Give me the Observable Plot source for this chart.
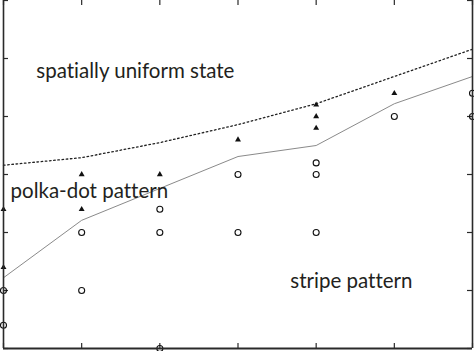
<!DOCTYPE html>
<html>
<head>
<meta charset="utf-8">
<script src="https://cdn.jsdelivr.net/npm/d3@7"></script>
<script src="https://cdn.jsdelivr.net/npm/@observablehq/plot@0.6"></script>
<style>
  html, body { margin: 0; padding: 0; background: #fff; }
  svg { display: block; }
  svg text { font-variant-ligatures: none; font-feature-settings: "liga" 0, "dlig" 0; }
</style>
</head>
<body>
<div id="chart"></div>
<script>
// Parameter grid (arbitrary units, 0..6 on both axes; no tick labels in the original)
const xTicks = [0, 1, 2, 3, 4, 5, 6];
const yTicks = [0, 1, 2, 3, 4, 5, 6];

// polka-dot observations (filled triangles)
const triX = [0, 0, 1, 1, 2, 3, 4, 4, 4, 5];
const triY = [2.4, 1.4, 3.0, 2.4, 3.0, 3.6, 4.2, 4.0, 3.8, 4.4];

// stripe observations (open circles)
const circX = [0, 0, 1, 1, 2, 2, 2, 3, 3, 4, 4, 4, 5, 6, 6];
const circY = [1.0, 0.4, 2.0, 1.0, 2.4, 2.0, 0.0, 3.0, 2.0, 3.2, 3.0, 2.0, 4.0, 4.4, 4.0];

// upper boundary (dotted): uniform state vs polka-dot
const upperX = [0, 1, 2, 3, 4, 5, 6];
const upperY = [3.16, 3.29, 3.55, 3.86, 4.22, 4.69, 5.16];

// lower boundary (solid grey): polka-dot vs stripe
const lowerX = [0, 1, 3, 4, 5, 6];
const lowerY = [1.22, 2.21, 3.31, 3.50, 4.22, 4.69];

// region labels
const labelText = ["spatially uniform state", "polka-dot pattern", "stripe pattern"];
const labelX = [0.42, 0.09, 3.67];
const labelY = [4.66, 2.60, 1.05];

const tri = triX.map((x, i) => ({x, y: triY[i]}));
const circ = circX.map((x, i) => ({x, y: circY[i]}));
const upper = upperX.map((x, i) => ({x, y: upperY[i]}));
const lower = lowerX.map((x, i) => ({x, y: lowerY[i]}));
const labels = labelText.map((t, i) => ({t, x: labelX[i], y: labelY[i]}));

const W = 474, H = 351;
const mL = 3, mR = 2, mT = 0, mB = 3;
const pw = W - mL - mR, ph = H - mT - mB;
const tl = 5;
const ink = "#2a2a2a";

const chart = Plot.plot({
  width: W,
  height: H,
  marginLeft: mL,
  marginRight: mR,
  marginTop: mT,
  marginBottom: mB,
  x: {domain: [0, 6], axis: null},
  y: {domain: [0, 6], axis: null},
  style: {background: "#fff", fontFamily: "Lato, 'Open Sans', sans-serif"},
  marks: [
    // inward ticks on all four sides
    Plot.tickX(xTicks, {x: d => d, insetTop: ph - tl, stroke: ink, strokeWidth: 1.2}),
    Plot.tickX(xTicks, {x: d => d, insetBottom: ph - tl, stroke: ink, strokeWidth: 1.2}),
    Plot.tickY(yTicks, {y: d => d, insetRight: pw - tl, stroke: ink, strokeWidth: 1.2}),
    Plot.tickY(yTicks, {y: d => d, insetLeft: pw - tl, stroke: ink, strokeWidth: 1.2}),
    // boundary lines
    Plot.line(upper, {x: "x", y: "y", stroke: "#222", strokeWidth: 1.3, strokeDasharray: "1.6,2.6"}),
    Plot.line(lower, {x: "x", y: "y", stroke: "#8a8a8a", strokeWidth: 1}),
    // observations
    Plot.dot(circ, {x: "x", y: "y", r: 3, stroke: "#111", strokeWidth: 1.1, fill: "none"}),
    Plot.dot(tri, {x: "x", y: "y", symbol: "triangle", r: 2.2, fill: "#111", stroke: "none"}),
    // frame: left, right, bottom
    Plot.ruleX([0, 6], {stroke: ink, strokeWidth: 1.6}),
    Plot.ruleY([0], {stroke: ink, strokeWidth: 1.8}),
    // region labels
    Plot.text(labels, {x: "x", y: "y", text: "t", textAnchor: "start", lineAnchor: "bottom",
      fontSize: 20.5, fill: "#231f20"})
  ]
});
document.getElementById("chart").appendChild(chart);
</script>
</body>
</html>
